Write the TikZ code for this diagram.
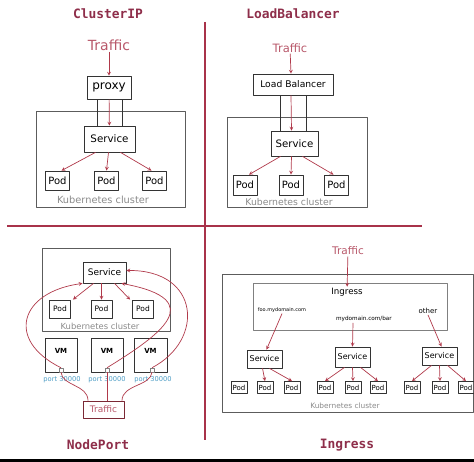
\documentclass[tikz,border=0pt]{standalone}
\usepackage{fontspec}
\setmainfont{DejaVu Sans}
\newfontfamily\titlefont{DejaVu Sans Mono}
\usetikzlibrary{arrows,positioning,calc}
\definecolor{titlered}{HTML}{8E2E4A}
\definecolor{linered}{HTML}{A8324A}
\definecolor{arrowred}{HTML}{B0394A}
\definecolor{trafficred}{HTML}{B8586A}
\definecolor{portblue}{HTML}{4C9CC4}
\definecolor{kubegray}{HTML}{8A8A8A}
\definecolor{boxgray}{HTML}{333333}
\tikzstyle{box}=[draw=boxgray,line width=0.8pt,rectangle,inner sep=0pt]
\tikzstyle{pod}=[box,minimum width=24pt,minimum height=19pt,font=\fontsize{10}{12}\selectfont]
\tikzstyle{cluster}=[draw=boxgray!80,line width=0.8pt,rectangle,inner sep=0pt]
\tikzstyle{kube}=[text=kubegray,inner sep=0pt]
\tikzstyle{heading}=[text=titlered,font={\titlefont\bfseries\fontsize{12.9}{14}\selectfont}]
\tikzstyle{traffic}=[text=trafficred,inner sep=1pt]
\tikzstyle{flow}=[->,draw=arrowred,line width=0.7pt]
\tikzstyle{wire}=[draw=boxgray,line width=0.8pt]
\tikzstyle{divider}=[draw=linered,line width=1.3pt]
\tikzstyle{portsq}=[draw=gray,fill=white,line width=0.5pt,minimum size=4pt,inner sep=0pt]
\tikzstyle{portlabel}=[text=portblue,font=\fontsize{6.7}{8}\selectfont,inner sep=0pt]
\tikzstyle{vm}=[box,minimum height=34pt,label={[anchor=north,yshift=-7pt,font=\bfseries\fontsize{7}{8}\selectfont]north:VM}]
\tikzstyle{route}=[inner sep=1pt]

\begin{document}
\begin{tikzpicture}[x=1pt,y=-1pt,>=stealth,line join=round]
\useasboundingbox (0,0) rectangle (474,462);
\fill (0,459) rectangle (474,462);

% dividers
\coordinate (vtop) at (205,22);
\coordinate (vbot) at (205,440);
\coordinate (hleft) at (7,226);
\coordinate (hright) at (422,226);
\draw[divider] (vtop) -- (vbot);
\draw[divider] (hleft) -- (hright);

% ClusterIP
\node[heading] (t1) at (108,14) {ClusterIP};
\node[traffic,font=\fontsize{14}{16}\selectfont] (tr1) at (109,45) {Traffic};
\node[cluster,minimum width=149pt,minimum height=96pt] (k1) at (110.5,159) {};
\node[box,minimum width=44pt,minimum height=23pt,font=\fontsize{12}{14}\selectfont] (proxy) at (109,87.5) {proxy};
\node[box,minimum width=51pt,minimum height=26pt,font=\fontsize{10.3}{12}\selectfont] (s1) at (109.5,139) {Service};
\foreach \n/\x in {a/57.5,b/106.5,c/154.5}
  \node[pod] (p1\n) at (\x,180.5) {Pod};
\node[kube,font=\fontsize{9.8}{11}\selectfont] (kl1) at (103,200) {Kubernetes cluster};
\draw[wire] ([xshift=-12pt]proxy.south) -- ([xshift=-12.5pt]s1.north);
\draw[wire] ([xshift=13pt]proxy.south) -- ([xshift=12.5pt]s1.north);
\draw[flow] (tr1) -- (proxy);
\draw[flow] (proxy) -- (s1);
\draw[flow] ([xshift=-14pt]s1.south) -- ([xshift=4pt]p1a.north);
\draw[flow] ([xshift=-1pt]s1.south) -- (p1b.north);
\draw[flow] ([xshift=11pt]s1.south) -- ([xshift=-3pt]p1c.north);

% LoadBalancer
\node[heading] (t2) at (293,14) {LoadBalancer};
\node[traffic,font=\fontsize{11.5}{13}\selectfont] (tr2) at (290,48) {Traffic};
\node[cluster,minimum width=140pt,minimum height=90pt] (k2) at (297,162) {};
\node[box,minimum width=80pt,minimum height=21pt,font=\fontsize{9.2}{11}\selectfont] (lb) at (293,84.5) {Load Balancer};
\node[box,minimum width=47pt,minimum height=25pt,font=\fontsize{10.2}{12}\selectfont] (s2) at (294.5,143.5) {Service};
\foreach \n/\x in {a/245,b/291,c/336.5}
  \node[pod,minimum height=20pt] (p2\n) at (\x,185) {Pod};
\node[kube,font=\fontsize{9.3}{11}\selectfont] (kl2) at (289,202) {Kubernetes cluster};
\draw[wire] ([xshift=-13pt]lb.south) -- ([xshift=-14.5pt]s2.north);
\draw[wire] ([xshift=13pt]lb.south) -- ([xshift=11.5pt]s2.north);
\draw[flow] (tr2) -- ([xshift=-2pt]lb.north);
\draw[flow] ([xshift=-2pt]lb.south) -- ([xshift=-3pt]s2.north);
\draw[flow] ([xshift=-14pt]s2.south) -- ([xshift=4pt]p2a.north);
\draw[flow] ([xshift=-3pt]s2.south) -- (p2b.north);
\draw[flow] ([xshift=8pt]s2.south) -- ([xshift=-3pt]p2c.north);

% NodePort
\node[cluster,minimum width=128pt,minimum height=83pt] (k3) at (106,289.5) {};
\node[box,minimum width=43pt,minimum height=21pt,font=\fontsize{9}{11}\selectfont] (s3) at (104.5,272.5) {Service};
\foreach \n/\x in {a/60,b/101.5,c/143}
  \node[pod,minimum width=21pt,minimum height=18pt,font=\fontsize{7.5}{9}\selectfont] (p3\n) at (\x,309) {Pod};
\node[kube,font=\fontsize{8.4}{10}\selectfont] (kl3) at (100,326) {Kubernetes cluster};
\draw[flow] ([xshift=-11pt]s3.south) -- ([xshift=2pt]p3a.north east);
\draw[flow] ([xshift=-3pt]s3.south) -- (p3b.north);
\draw[flow] ([xshift=10pt]s3.south) -- ([xshift=-2pt]p3c.north west);
\node[vm,minimum width=32pt] (vm1) at (61,355) {};
\node[vm,minimum width=32pt] (vm2) at (107,355) {};
\node[vm,minimum width=33pt] (vm3) at (150.5,355) {};
\node[portsq] (q1) at (61,370) {};
\node[portsq] (q2) at (107,370) {};
\node[portsq] (q3) at (152,370) {};
\node[portlabel] (pl1) at (62,380) {port 30000};
\node[portlabel] (pl2) at (107,380) {port 30000};
\node[portlabel] (pl3) at (153,380) {port 30000};
\node[box,draw=arrowred!70!black,minimum width=41pt,minimum height=17pt,text=trafficred,font=\fontsize{9}{11}\selectfont] (tr3) at (103.5,409.5) {Traffic};
\draw[draw=arrowred,line width=0.7pt] ([xshift=-15.5pt]tr3.north) .. controls +(0,-16) and (62,386) .. (q1.south);
\draw[draw=arrowred,line width=0.7pt] ([xshift=3.5pt]tr3.north) -- (q2.south);
\draw[draw=arrowred,line width=0.7pt] ([xshift=18.5pt]tr3.north) .. controls +(0,-16) and (151,386) .. (q3.south);
\draw[flow] (q1.north) .. controls (5,340) and (20,292) .. (s3.south west);
\draw[flow] (q2.north) .. controls (160,335) and (210,300) .. ([xshift=-5pt]s3.south east);
\draw[flow] (q3.north) .. controls (205,340) and (200,270) .. ([yshift=2pt]s3.east);
\node[heading] (t3) at (98,445) {NodePort};

% Ingress
\node[traffic,font=\fontsize{10.5}{12}\selectfont] (tr4) at (348,251) {Traffic};
\node[cluster,minimum width=251pt,minimum height=138pt] (k4) at (347.5,343) {};
\node[cluster,draw=gray,minimum width=194pt,minimum height=47pt] (ing) at (350,306.5) {};
\node[route,font=\fontsize{8.7}{10}\selectfont] (inglabel) at (347,292) {Ingress};
\node[route,font=\fontsize{5}{6}\selectfont] (foo) at (282,310) {foo.mydomain.com};
\node[route,font=\fontsize{5.7}{7}\selectfont] (bar) at (364,319) {mydomain.com/bar};
\node[route,font=\fontsize{7}{8}\selectfont] (other) at (428,311) {other};
\node[box,minimum width=35pt,minimum height=18pt,font=\fontsize{8}{10}\selectfont] (is1) at (264.5,359) {Service};
\node[box,minimum width=35pt,minimum height=20pt,font=\fontsize{8}{10}\selectfont] (is2) at (352.5,357) {Service};
\node[box,minimum width=35pt,minimum height=18pt,font=\fontsize{8}{10}\selectfont] (is3) at (439.5,356) {Service};
\foreach \n/\x in {1/239,2/265,3/292,4/325,5/353,6/378,7/412,8/440,9/466}
  \node[pod,minimum width=16pt,minimum height=12pt,font=\fontsize{7}{8}\selectfont] (ip\n) at (\x,387.5) {Pod};
\node[kube,font=\fontsize{7.4}{9}\selectfont] (kl4) at (345,406) {Kubernetes cluster};
\draw[flow] (tr4) -- (inglabel);
\draw[flow] (foo.south) -- ([xshift=2pt]is1.north);
\draw[flow] ([xshift=-11pt]bar.south) -- (is2.north);
\draw[flow] (other.south) -- ([xshift=2pt]is3.north);
\foreach \s/\p/\d in {is1/ip2/-2,is1/ip3/5,is2/ip4/-8,is2/ip5/0,is2/ip6/8,is3/ip7/-8,is3/ip8/0,is3/ip9/8}
  \draw[flow] ([xshift=\d pt]\s.south) -- (\p.north);
\node[heading] (t4) at (347,445) {Ingress};
\end{tikzpicture}
\end{document}
